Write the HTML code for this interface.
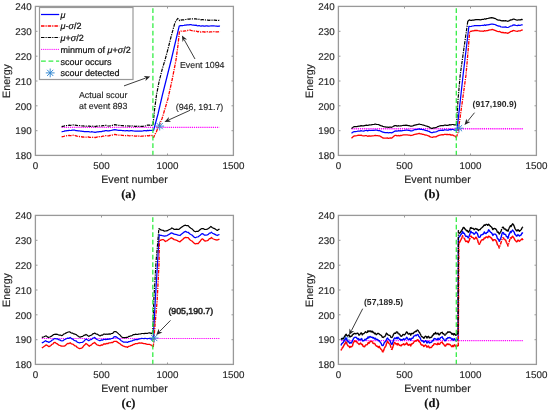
<!DOCTYPE html>
<html><head><meta charset="utf-8"><title>Energy vs Event number</title><style>
html,body{margin:0;padding:0;background:#fff;}
body{width:550px;height:411px;overflow:hidden;}
svg{display:block;filter:blur(0.3px);}
text{text-rendering:geometricPrecision;font-family:'Liberation Sans', Arial, Helvetica, sans-serif;fill:#262626;stroke:#262626;stroke-width:0.15px;}
.tk{font-size:9.8px;}
.al{font-size:10.7px;}
.an{font-size:8.8px;}
.b{font-weight:bold;font-size:8.6px;stroke-width:0;}
.c{font-size:8.75px;stroke-width:0.5px;}
.lg{font-size:9px;fill:#111;stroke:#111;stroke-width:0.22px;}
.gr{font-style:italic;}
.cap{font-family:'Liberation Serif', 'Times New Roman', serif;font-weight:bold;font-size:12.5px;fill:#111;}
</style></head>
<body><svg width="550" height="411" viewBox="0 0 550 411">
<rect width="550" height="411" fill="#fff"/>
<clipPath id="clipa"><rect x="35.5" y="6.5" width="198.0" height="149.0"/></clipPath>
<clipPath id="clipb"><rect x="338.5" y="6.5" width="198.0" height="149.0"/></clipPath>
<clipPath id="clipc"><rect x="35.5" y="215.5" width="198.0" height="149.0"/></clipPath>
<clipPath id="clipd"><rect x="338.5" y="215.5" width="198.0" height="149.0"/></clipPath>
<g clip-path="url(#clipa)">
<line x1="61.6" y1="127.3" x2="219.3" y2="127.3" stroke="#ff00ff" stroke-width="1.2" stroke-dasharray="1.2,0.9"/>
<polyline points="61.6,131.8 62.7,131.5 63.8,131.3 64.9,130.9 66.0,130.9 67.1,130.7 68.1,130.7 69.2,130.3 70.2,130.5 71.3,130.4 72.3,130.2 73.4,130.1 74.4,130.0 75.6,130.5 76.8,130.5 78.0,130.9 79.0,130.8 80.1,131.0 81.1,131.0 82.2,131.4 83.2,131.3 84.3,131.6 85.3,131.5 86.4,131.7 87.5,131.5 88.6,131.5 89.7,131.8 90.8,132.0 91.8,131.7 92.9,132.0 94.0,132.1 95.1,132.3 96.2,132.1 97.3,131.9 98.4,131.9 99.4,131.6 100.5,131.5 101.6,131.6 102.8,131.2 104.1,131.1 105.3,130.7 106.5,130.6 107.6,130.9 108.8,130.9 109.9,130.6 111.1,130.5 112.3,130.2 113.6,129.8 114.8,129.6 116.1,129.8 117.4,130.2 118.7,130.3 119.8,130.3 120.9,130.3 122.0,130.5 123.1,130.5 124.1,130.7 125.2,130.8 126.3,130.7 127.4,130.6 128.5,130.8 129.6,130.9 130.7,130.7 131.8,130.7 132.9,130.8 133.9,131.0 135.0,131.2 136.1,131.2 137.2,131.0 138.3,131.2 139.5,131.0 140.6,131.2 141.8,131.1 142.9,131.0 144.0,130.6 145.2,130.6 146.3,130.8 147.5,130.3 148.6,130.6 149.8,130.3 150.9,130.5 152.1,130.3 153.5,130.5 158.0,114.0 162.4,95.0 166.8,77.5 171.2,60.0 175.2,43.0 179.2,26.1 180.6,25.6 182.0,25.5 183.0,25.5 184.0,25.3 185.0,25.0 186.0,25.1 187.0,24.9 188.0,24.8 189.0,24.9 190.0,24.7 191.0,24.6 192.0,25.0 193.0,25.2 194.0,25.2 195.0,25.3 196.0,25.2 197.0,25.6 198.0,25.9 199.0,25.5 200.0,25.9 201.0,26.1 202.0,25.9 203.0,25.8 204.0,26.1 205.0,26.1 206.0,25.9 207.0,25.8 208.0,26.1 209.0,26.2 210.0,26.0 211.0,25.9 212.0,25.9 213.0,25.9 214.0,25.9 215.0,26.0 216.0,26.1 217.0,26.2 218.0,26.3 219.0,26.0 220.0,26.2" fill="none" stroke="#0000ff" stroke-width="1.25" stroke-linejoin="round"/>
<polyline points="61.6,136.9 62.7,136.6 63.8,136.4 64.9,136.0 66.0,135.9 67.1,135.7 68.1,135.7 69.2,135.3 70.2,135.6 71.3,135.5 72.3,135.3 73.4,135.2 74.4,135.1 75.6,135.8 76.8,136.0 78.0,136.6 79.0,136.5 80.1,136.6 81.1,136.7 82.2,137.0 83.2,137.0 84.3,137.2 85.3,137.1 86.4,137.2 87.5,137.0 88.6,137.0 89.7,137.3 90.8,137.4 91.8,137.1 92.9,137.3 94.0,137.4 95.1,137.5 96.2,137.3 97.3,137.0 98.4,137.0 99.4,136.7 100.5,136.5 101.6,136.6 102.8,136.2 104.1,136.1 105.3,135.7 106.5,135.6 107.6,135.8 108.8,135.8 109.9,135.5 111.1,135.4 112.3,135.1 113.6,134.7 114.8,134.5 116.1,134.7 117.4,135.1 118.7,135.2 119.8,135.2 120.9,135.2 122.0,135.4 123.1,135.4 124.1,135.6 125.2,135.7 126.3,135.6 127.4,135.5 128.5,135.7 129.6,135.8 130.7,135.6 131.8,135.6 132.9,135.7 133.9,135.9 135.0,136.2 136.1,136.2 137.2,136.0 138.3,136.2 139.5,136.0 140.6,136.3 141.8,136.2 142.9,136.2 144.0,135.9 145.2,135.9 146.3,136.1 147.5,135.6 148.6,135.8 149.8,135.5 150.9,135.7 152.1,135.5 153.6,137.4 154.9,134.5 156.3,132.0 157.5,129.1 158.6,126.5 159.8,124.0 160.9,121.2 162.1,118.4 165.2,108.0 167.9,98.9 172.3,79.0 176.0,60.0 178.0,45.0 179.4,31.7 180.7,31.2 182.0,31.0 183.0,31.1 184.0,31.1 185.0,30.9 186.0,30.9 187.0,30.5 188.0,30.4 189.0,30.3 190.0,30.0 191.0,30.4 192.0,30.7 193.0,31.0 194.0,31.0 195.0,31.1 196.0,31.1 197.0,31.4 198.0,31.8 199.0,31.4 200.0,31.8 201.0,32.0 202.0,31.8 203.0,31.7 204.0,32.0 205.0,32.0 206.0,31.8 207.0,31.7 208.0,32.0 209.0,32.1 210.0,31.9 211.0,31.8 212.0,31.8 213.0,31.7 214.0,31.7 215.0,31.7 216.0,31.8 217.0,31.9 218.0,31.9 219.0,31.6 220.0,31.8" fill="none" stroke="#ff0000" stroke-width="1.3" stroke-dasharray="3.5,1.0,1.2,1.0" stroke-linejoin="round"/>
<polyline points="61.6,126.6 62.7,126.3 63.8,126.1 64.9,125.7 66.0,125.7 67.1,125.5 68.1,125.5 69.2,125.1 70.2,125.3 71.3,125.2 72.3,125.0 73.4,124.9 74.4,124.8 75.6,125.3 76.8,125.3 78.0,125.7 79.0,125.5 80.1,125.7 81.1,125.7 82.2,126.0 83.2,125.9 84.3,126.1 85.3,126.0 86.3,126.1 87.3,125.9 88.3,126.2 89.3,126.0 90.4,126.3 91.4,126.5 92.4,126.2 93.4,126.4 94.4,126.4 95.4,126.6 96.5,126.1 97.5,126.1 98.5,126.0 99.5,125.9 100.6,125.8 101.6,126.0 102.8,125.6 104.1,125.7 105.3,125.3 106.5,125.4 107.6,125.8 108.8,126.0 109.9,125.9 111.1,125.7 112.3,125.4 113.6,125.0 114.8,124.7 116.1,124.9 117.4,125.3 118.7,125.4 119.8,125.4 120.9,125.5 122.0,125.7 123.1,125.7 124.1,125.9 125.2,126.0 126.3,125.8 127.4,125.8 128.5,126.0 129.6,126.1 130.7,125.8 131.8,125.9 132.9,126.0 133.9,126.1 135.0,126.4 136.1,126.3 137.2,126.1 138.3,126.3 139.5,126.1 140.6,126.4 141.8,126.3 142.9,126.3 144.0,126.0 145.2,126.0 146.2,125.9 147.2,125.2 148.2,125.1 149.5,125.1 150.8,125.5 152.1,125.4 153.0,125.2 154.5,110.0 156.5,95.0 159.0,82.0 162.0,70.0 165.0,60.0 168.0,49.0 171.0,37.0 174.9,22.8 176.3,20.5 177.7,18.5 178.8,19.4 179.8,20.7 180.9,20.1 182.0,19.9 183.0,19.9 184.0,19.8 185.0,19.5 186.1,19.5 187.1,19.2 188.2,19.1 189.3,19.1 190.3,18.9 191.4,18.7 192.6,18.9 193.8,18.8 195.0,18.8 196.0,18.8 197.0,19.2 198.0,19.5 199.0,19.2 200.0,19.6 201.0,19.8 202.0,19.7 203.0,19.6 204.0,20.0 205.0,20.0 206.0,19.9 207.0,19.8 208.0,20.2 209.0,20.3 210.0,20.1 211.0,20.0 212.0,20.1 213.0,20.0 214.0,20.1 215.0,20.2 216.0,20.3 217.0,20.4 218.0,20.5 219.0,20.3 220.0,20.5" fill="none" stroke="#000000" stroke-width="1.2" stroke-dasharray="3.5,1.0,1.2,1.0" stroke-linejoin="round"/>
<line x1="152.9" y1="155.5" x2="152.9" y2="6.5" stroke="#33ee44" stroke-width="1.3" stroke-dasharray="4.8,2.7"/>
</g>
<path d="M155.30,126.10L164.10,126.10M156.59,122.99L162.81,129.21M159.70,121.70L159.70,130.50M162.81,122.99L156.59,129.21" stroke="#2f86d0" stroke-width="0.95" fill="none"/>
<line x1="35.5" y1="155.5" x2="35.5" y2="153.5" stroke="#999999" stroke-width="1"/>
<line x1="35.5" y1="6.5" x2="35.5" y2="8.5" stroke="#999999" stroke-width="1"/>
<text x="35.5" y="169.1" text-anchor="middle" class="tk">0</text>
<line x1="101.5" y1="155.5" x2="101.5" y2="153.5" stroke="#999999" stroke-width="1"/>
<line x1="101.5" y1="6.5" x2="101.5" y2="8.5" stroke="#999999" stroke-width="1"/>
<text x="101.5" y="169.1" text-anchor="middle" class="tk">500</text>
<line x1="167.5" y1="155.5" x2="167.5" y2="153.5" stroke="#999999" stroke-width="1"/>
<line x1="167.5" y1="6.5" x2="167.5" y2="8.5" stroke="#999999" stroke-width="1"/>
<text x="167.5" y="169.1" text-anchor="middle" class="tk">1000</text>
<line x1="233.5" y1="155.5" x2="233.5" y2="153.5" stroke="#999999" stroke-width="1"/>
<line x1="233.5" y1="6.5" x2="233.5" y2="8.5" stroke="#999999" stroke-width="1"/>
<text x="233.5" y="169.1" text-anchor="middle" class="tk">1500</text>
<line x1="35.5" y1="155.5" x2="37.5" y2="155.5" stroke="#999999" stroke-width="1"/>
<line x1="233.5" y1="155.5" x2="231.5" y2="155.5" stroke="#999999" stroke-width="1"/>
<text x="31.6" y="159.2" text-anchor="end" class="tk">180</text>
<line x1="35.5" y1="130.7" x2="37.5" y2="130.7" stroke="#999999" stroke-width="1"/>
<line x1="233.5" y1="130.7" x2="231.5" y2="130.7" stroke="#999999" stroke-width="1"/>
<text x="31.6" y="134.4" text-anchor="end" class="tk">190</text>
<line x1="35.5" y1="105.8" x2="37.5" y2="105.8" stroke="#999999" stroke-width="1"/>
<line x1="233.5" y1="105.8" x2="231.5" y2="105.8" stroke="#999999" stroke-width="1"/>
<text x="31.6" y="109.5" text-anchor="end" class="tk">200</text>
<line x1="35.5" y1="81.0" x2="37.5" y2="81.0" stroke="#999999" stroke-width="1"/>
<line x1="233.5" y1="81.0" x2="231.5" y2="81.0" stroke="#999999" stroke-width="1"/>
<text x="31.6" y="84.7" text-anchor="end" class="tk">210</text>
<line x1="35.5" y1="56.2" x2="37.5" y2="56.2" stroke="#999999" stroke-width="1"/>
<line x1="233.5" y1="56.2" x2="231.5" y2="56.2" stroke="#999999" stroke-width="1"/>
<text x="31.6" y="59.9" text-anchor="end" class="tk">220</text>
<line x1="35.5" y1="31.3" x2="37.5" y2="31.3" stroke="#999999" stroke-width="1"/>
<line x1="233.5" y1="31.3" x2="231.5" y2="31.3" stroke="#999999" stroke-width="1"/>
<text x="31.6" y="35.0" text-anchor="end" class="tk">230</text>
<line x1="35.5" y1="6.5" x2="37.5" y2="6.5" stroke="#999999" stroke-width="1"/>
<line x1="233.5" y1="6.5" x2="231.5" y2="6.5" stroke="#999999" stroke-width="1"/>
<text x="31.6" y="10.2" text-anchor="end" class="tk">240</text>
<rect x="35.4" y="6.4" width="198.0" height="149.0" fill="none" stroke="#999999" stroke-width="1.3"/>
<text x="134.5" y="182.7" text-anchor="middle" class="al">Event number</text>
<text transform="translate(10.3,81.0) rotate(-90)" text-anchor="middle" class="al">Energy</text>
<g clip-path="url(#clipb)">
<line x1="351.5" y1="128.8" x2="522.8" y2="128.8" stroke="#ff00ff" stroke-width="1.4" stroke-dasharray="1.2,0.9"/>
<polyline points="351.5,133.3 352.5,132.6 353.5,131.8 354.5,131.6 355.6,131.6 356.7,131.5 357.8,131.2 358.9,131.1 360.0,131.1 361.1,130.7 362.2,131.0 363.3,131.1 364.4,130.8 365.5,130.5 366.6,130.4 367.6,130.8 368.7,130.4 369.8,130.3 370.9,130.5 372.0,130.3 373.1,130.3 374.2,130.3 375.3,130.0 376.4,130.0 377.5,130.3 378.5,130.6 379.6,130.5 380.7,131.2 381.8,131.6 382.9,132.2 384.0,132.4 385.1,132.6 386.2,132.7 387.3,132.5 388.4,132.9 389.5,132.7 390.5,132.7 391.6,132.9 392.7,132.4 393.8,131.7 394.9,131.1 396.0,130.9 397.1,131.2 398.2,130.7 399.3,130.8 400.4,130.7 401.5,130.8 402.5,130.6 403.6,130.5 404.8,130.3 406.0,130.2 407.2,130.2 408.4,130.3 409.5,130.4 410.5,130.8 411.6,130.8 412.7,130.6 413.8,130.0 414.9,129.7 416.0,129.6 417.1,129.4 418.2,129.2 419.3,128.9 420.4,129.4 421.5,129.2 422.5,129.7 423.6,129.7 424.7,130.1 425.8,130.5 426.9,130.5 428.0,131.1 429.1,131.3 430.2,132.2 431.3,132.6 432.4,132.7 433.5,132.1 434.5,132.2 435.6,132.0 436.7,131.6 437.8,131.0 438.9,130.7 440.0,130.4 441.1,130.3 442.2,130.2 443.3,130.3 444.4,129.9 445.4,129.9 446.5,130.0 447.6,130.0 448.7,130.0 449.8,129.4 450.9,129.9 452.0,129.4 453.1,129.5 454.2,130.0 455.3,130.0 457.0,130.5 463.1,75.0 468.9,26.3 470.1,26.5 471.3,26.3 472.5,26.0 473.6,25.9 474.7,25.7 475.8,25.6 476.9,25.6 478.0,25.7 479.1,25.6 480.2,25.7 481.3,25.5 482.4,25.3 483.5,25.5 484.6,24.9 485.6,25.3 486.7,24.9 487.8,24.9 489.1,24.6 490.3,24.3 491.6,24.0 492.7,24.1 493.8,24.3 494.9,24.5 496.2,25.1 497.4,25.7 498.7,26.2 499.8,26.1 500.9,26.9 502.0,27.0 503.1,27.0 504.3,27.2 505.6,26.9 506.8,27.3 508.0,27.5 509.4,26.8 510.7,26.0 511.8,25.9 512.9,25.1 514.0,24.9 515.1,25.2 516.2,25.5 517.3,25.6 518.4,25.2 519.4,25.3 520.5,25.3 521.6,24.8 522.7,24.9" fill="none" stroke="#0000ff" stroke-width="1.25" stroke-linejoin="round"/>
<polyline points="351.5,138.2 352.5,137.3 353.5,136.3 354.5,135.8 355.6,135.8 356.7,135.6 357.8,135.3 358.9,135.1 360.0,135.3 361.1,135.1 362.2,135.6 363.3,135.9 364.4,135.8 365.5,135.6 366.6,135.7 367.6,136.3 368.7,136.0 369.8,136.0 370.9,136.1 372.0,135.9 373.1,135.8 374.2,135.7 375.3,135.4 376.4,135.7 377.5,135.7 378.5,135.9 379.6,135.8 380.7,136.7 381.8,137.2 382.9,138.0 384.0,138.1 385.1,138.2 386.2,138.2 387.3,138.0 388.4,138.3 389.5,138.1 390.5,138.0 391.6,138.2 392.7,137.3 393.8,136.3 394.9,135.4 396.0,135.4 397.1,135.9 398.2,135.5 399.3,135.8 400.4,135.5 401.5,135.5 402.5,135.2 403.6,134.9 404.8,134.8 406.0,134.8 407.2,134.9 408.4,135.1 409.5,135.1 410.5,135.5 411.6,135.4 412.7,135.2 413.8,134.7 414.9,134.4 416.0,134.2 417.1,134.0 418.2,133.6 419.3,133.3 420.4,133.8 421.5,133.8 422.5,134.3 423.6,134.4 424.7,134.8 425.8,135.2 426.9,135.2 428.0,135.8 429.1,136.0 430.2,136.9 431.3,137.2 432.4,137.3 433.5,136.8 434.5,136.9 435.6,136.8 436.7,136.5 437.8,135.8 438.9,135.4 440.0,135.1 441.1,134.9 442.2,134.7 443.3,134.8 444.4,134.4 445.4,134.4 446.5,134.5 447.6,134.4 448.7,134.6 449.8,134.3 450.9,135.1 452.0,134.9 453.1,135.2 454.2,135.9 455.3,136.2 456.3,137.5" fill="none" stroke="#ff0000" stroke-width="1.3" stroke-linejoin="round"/>
<polyline points="456.3,137.5 458.0,132.5 462.0,104.0 466.0,75.0 468.0,52.0 469.7,31.4" fill="none" stroke="#ff0000" stroke-width="1.3" stroke-dasharray="3.5,1.0,1.2,1.0" stroke-linejoin="round"/>
<polyline points="469.7,31.4 471.1,31.3 472.5,30.8 473.6,30.8 474.7,30.5 475.8,30.4 476.9,30.5 478.0,30.7 479.1,30.8 480.2,31.2 481.3,31.1 482.4,31.1 483.5,31.3 484.6,30.6 485.6,31.0 486.7,30.6 487.8,30.5 488.9,30.2 490.0,29.9 491.1,29.8 492.2,29.4 493.5,29.8 494.9,30.3 496.2,30.8 497.4,31.3 498.7,31.6 499.8,31.5 500.9,32.3 502.0,32.5 503.1,32.5 504.3,32.8 505.6,32.6 506.8,33.0 508.0,33.3 509.4,32.4 510.7,31.4 511.8,31.4 512.9,30.6 514.0,30.5 515.1,30.9 516.2,31.2 517.3,31.4 518.4,30.9 519.4,30.9 520.5,30.8 521.6,30.1 522.7,30.0" fill="none" stroke="#ff0000" stroke-width="1.3" stroke-linejoin="round"/>
<polyline points="351.5,128.4 352.5,127.7 353.5,126.9 354.5,126.7 355.6,126.7 356.7,126.6 357.8,126.3 358.9,126.2 360.0,126.1 361.1,125.6 362.2,125.9 363.3,125.9 364.4,125.6 365.5,125.3 366.6,125.1 367.6,125.5 368.7,125.1 369.8,124.9 370.9,125.0 372.0,124.6 373.1,124.5 374.2,124.4 375.3,124.0 376.4,124.4 377.4,124.5 378.5,124.5 379.6,125.1 380.7,125.6 381.8,125.9 382.9,126.4 384.0,126.7 385.1,126.9 386.2,127.1 387.3,127.0 388.4,127.4 389.5,127.1 390.5,127.1 391.6,127.3 392.7,126.8 393.8,126.1 394.9,125.6 396.0,125.6 397.1,126.1 398.2,125.7 399.3,126.0 400.4,125.8 401.5,125.8 402.5,125.5 403.6,125.3 404.8,125.3 406.0,125.2 407.2,125.4 408.4,125.6 409.5,125.7 410.5,126.2 411.6,126.2 412.7,126.0 413.8,125.4 414.9,125.1 416.0,124.9 417.1,124.7 418.2,124.3 419.3,124.0 420.4,124.5 421.5,124.5 422.5,125.0 423.6,125.1 424.7,125.5 425.8,126.0 426.9,126.1 428.0,126.7 429.1,126.9 430.2,127.9 431.3,128.3 432.4,128.4 433.5,127.8 434.5,127.9 435.6,127.7 436.7,127.3 437.8,126.6 438.9,126.2 440.0,125.8 441.1,125.6 442.2,125.5 443.3,125.6 444.4,125.2 445.4,125.2 446.5,125.3 447.6,125.3 448.7,125.2 449.8,124.6 450.9,125.0 452.0,124.5 453.1,124.5 454.2,124.9 455.3,124.9 456.5,124.5" fill="none" stroke="#000000" stroke-width="1.2" stroke-linejoin="round"/>
<polyline points="456.5,124.5 458.0,100.0 460.2,75.0 463.7,50.0 467.8,21.2" fill="none" stroke="#000000" stroke-width="1.2" stroke-dasharray="3.5,1.0,1.2,1.0" stroke-linejoin="round"/>
<polyline points="467.8,21.2 469.3,19.9 470.4,20.3 471.4,20.3 472.5,20.2 473.6,20.1 474.7,19.8 475.8,19.6 476.9,19.6 478.0,19.7 479.1,19.6 480.2,19.8 481.3,19.6 482.4,19.4 483.5,19.5 484.6,18.8 485.6,19.1 486.7,18.6 487.8,18.5 489.1,18.2 490.3,17.9 491.6,17.7 493.0,17.9 494.4,18.3 495.5,18.6 496.5,19.4 497.6,19.9 498.7,20.2 499.8,20.0 500.9,20.7 502.0,20.8 503.1,20.7 504.3,20.9 505.6,20.7 506.8,21.0 508.0,21.3 509.4,20.6 510.7,19.9 511.8,19.9 512.9,19.2 514.0,19.1 515.1,19.5 516.2,19.9 517.3,20.2 518.4,19.8 519.4,19.9 520.5,19.9 521.6,19.4 522.7,19.6" fill="none" stroke="#000000" stroke-width="1.2" stroke-linejoin="round"/>
<line x1="456.3" y1="155.5" x2="456.3" y2="6.5" stroke="#33ee44" stroke-width="1.3" stroke-dasharray="4.8,2.7"/>
</g>
<path d="M454.60,128.20L463.40,128.20M455.89,125.09L462.11,131.31M459.00,123.80L459.00,132.60M462.11,125.09L455.89,131.31" stroke="#2f86d0" stroke-width="0.95" fill="none"/>
<line x1="338.5" y1="155.5" x2="338.5" y2="153.5" stroke="#999999" stroke-width="1"/>
<line x1="338.5" y1="6.5" x2="338.5" y2="8.5" stroke="#999999" stroke-width="1"/>
<text x="338.5" y="169.1" text-anchor="middle" class="tk">0</text>
<line x1="404.5" y1="155.5" x2="404.5" y2="153.5" stroke="#999999" stroke-width="1"/>
<line x1="404.5" y1="6.5" x2="404.5" y2="8.5" stroke="#999999" stroke-width="1"/>
<text x="404.5" y="169.1" text-anchor="middle" class="tk">500</text>
<line x1="470.5" y1="155.5" x2="470.5" y2="153.5" stroke="#999999" stroke-width="1"/>
<line x1="470.5" y1="6.5" x2="470.5" y2="8.5" stroke="#999999" stroke-width="1"/>
<text x="470.5" y="169.1" text-anchor="middle" class="tk">1000</text>
<line x1="536.5" y1="155.5" x2="536.5" y2="153.5" stroke="#999999" stroke-width="1"/>
<line x1="536.5" y1="6.5" x2="536.5" y2="8.5" stroke="#999999" stroke-width="1"/>
<text x="536.5" y="169.1" text-anchor="middle" class="tk">1500</text>
<line x1="338.5" y1="155.5" x2="340.5" y2="155.5" stroke="#999999" stroke-width="1"/>
<line x1="536.5" y1="155.5" x2="534.5" y2="155.5" stroke="#999999" stroke-width="1"/>
<text x="334.6" y="159.2" text-anchor="end" class="tk">180</text>
<line x1="338.5" y1="130.7" x2="340.5" y2="130.7" stroke="#999999" stroke-width="1"/>
<line x1="536.5" y1="130.7" x2="534.5" y2="130.7" stroke="#999999" stroke-width="1"/>
<text x="334.6" y="134.4" text-anchor="end" class="tk">190</text>
<line x1="338.5" y1="105.8" x2="340.5" y2="105.8" stroke="#999999" stroke-width="1"/>
<line x1="536.5" y1="105.8" x2="534.5" y2="105.8" stroke="#999999" stroke-width="1"/>
<text x="334.6" y="109.5" text-anchor="end" class="tk">200</text>
<line x1="338.5" y1="81.0" x2="340.5" y2="81.0" stroke="#999999" stroke-width="1"/>
<line x1="536.5" y1="81.0" x2="534.5" y2="81.0" stroke="#999999" stroke-width="1"/>
<text x="334.6" y="84.7" text-anchor="end" class="tk">210</text>
<line x1="338.5" y1="56.2" x2="340.5" y2="56.2" stroke="#999999" stroke-width="1"/>
<line x1="536.5" y1="56.2" x2="534.5" y2="56.2" stroke="#999999" stroke-width="1"/>
<text x="334.6" y="59.9" text-anchor="end" class="tk">220</text>
<line x1="338.5" y1="31.3" x2="340.5" y2="31.3" stroke="#999999" stroke-width="1"/>
<line x1="536.5" y1="31.3" x2="534.5" y2="31.3" stroke="#999999" stroke-width="1"/>
<text x="334.6" y="35.0" text-anchor="end" class="tk">230</text>
<line x1="338.5" y1="6.5" x2="340.5" y2="6.5" stroke="#999999" stroke-width="1"/>
<line x1="536.5" y1="6.5" x2="534.5" y2="6.5" stroke="#999999" stroke-width="1"/>
<text x="334.6" y="10.2" text-anchor="end" class="tk">240</text>
<rect x="338.4" y="6.4" width="198.0" height="149.0" fill="none" stroke="#999999" stroke-width="1.3"/>
<text x="437.5" y="182.7" text-anchor="middle" class="al">Event number</text>
<text transform="translate(313.3,81.0) rotate(-90)" text-anchor="middle" class="al">Energy</text>
<g clip-path="url(#clipc)">
<line x1="41.8" y1="338.5" x2="219.9" y2="338.5" stroke="#ff00ff" stroke-width="1.0" stroke-dasharray="1.2,0.9"/>
<polyline points="41.8,342.9 43.1,342.4 44.3,341.6 45.6,340.7 46.7,341.6 47.8,341.7 48.9,342.4 49.9,341.8 50.9,341.3 51.9,340.2 52.9,339.9 53.9,338.8 54.9,338.5 56.2,338.9 57.4,338.9 58.7,339.6 59.8,339.9 60.9,340.6 62.0,340.9 63.1,340.7 64.2,339.6 65.3,339.3 66.4,338.8 67.7,338.1 68.9,338.3 70.2,337.4 71.5,338.7 72.7,339.1 74.0,340.2 75.1,340.8 76.2,340.9 77.2,342.1 78.3,342.5 79.4,342.9 80.8,342.5 82.2,342.4 83.5,341.7 84.7,340.3 86.0,339.1 87.3,339.8 88.7,340.7 89.7,340.0 90.7,339.7 91.7,339.3 92.7,338.2 93.7,338.0 94.7,337.4 95.8,338.7 97.0,339.5 98.1,340.0 99.3,340.5 100.4,340.5 101.5,339.9 102.6,340.2 103.6,339.3 104.7,339.4 105.8,339.6 106.9,339.2 108.0,339.4 109.1,338.9 110.2,339.1 111.4,338.5 112.7,338.3 113.9,336.9 115.1,336.6 116.4,336.9 117.8,338.0 118.9,338.8 120.0,339.5 121.1,340.7 122.2,341.3 123.3,342.0 124.4,342.0 125.4,342.2 126.5,342.1 127.6,342.4 128.7,341.5 129.8,341.5 130.9,341.1 132.0,341.0 133.1,340.2 134.2,340.1 135.3,339.5 136.3,339.5 137.4,339.6 138.5,339.1 139.6,338.8 140.7,338.7 141.8,338.4 142.9,338.5 144.0,338.7 145.1,338.4 146.2,338.5 147.3,338.8 148.3,338.5 149.4,338.4 150.5,338.8 151.5,338.9 152.5,339.8 153.3,338.5 155.3,300.0 157.6,262.0 159.2,234.7 160.3,235.3 161.3,235.3 162.4,235.6 163.4,235.8 164.5,236.2 165.8,235.8 167.1,235.6 168.4,234.7 169.9,233.9 171.3,232.8 172.8,233.4 174.2,234.2 175.5,234.4 176.8,234.6 178.1,235.2 180.0,235.5 181.3,234.3 182.7,233.2 184.1,232.1 185.5,231.4 186.8,232.1 188.2,232.3 189.6,233.8 190.9,234.5 192.1,235.1 193.2,236.2 194.3,237.3 195.5,237.7 196.8,237.0 198.2,236.8 199.2,235.9 200.2,235.2 201.3,234.1 202.3,233.6 203.4,234.1 204.5,235.2 205.9,235.2 207.3,234.8 208.3,234.4 209.4,233.1 210.4,233.1 211.4,232.1 212.4,233.2 213.5,233.7 214.5,234.1 215.9,234.9 217.3,235.5 218.4,234.8 219.5,234.5" fill="none" stroke="#0000ff" stroke-width="1.25" stroke-linejoin="round"/>
<polyline points="41.8,347.8 42.9,347.3 44.0,346.5 45.1,345.7 46.2,344.9 47.5,345.6 48.9,346.7 49.9,346.1 50.9,345.5 51.9,344.3 52.9,344.0 53.9,342.7 54.9,342.4 56.2,343.3 57.4,343.9 58.7,345.1 59.8,345.3 60.9,346.0 62.0,346.2 63.1,346.2 64.2,346.2 65.6,345.4 66.9,344.0 68.0,343.3 69.1,343.6 70.2,342.7 71.5,343.9 72.7,344.1 74.0,345.1 75.1,345.9 76.2,346.1 77.2,347.5 78.3,348.0 79.4,348.6 80.5,348.3 81.6,348.2 82.7,347.3 83.8,345.7 84.9,344.8 86.0,343.4 87.1,344.3 88.2,345.2 89.3,346.2 90.4,345.3 91.5,344.8 92.5,343.6 93.6,343.2 94.7,342.4 95.8,343.8 97.0,344.8 98.1,345.2 99.3,345.7 100.4,345.6 101.5,344.9 102.6,345.1 103.6,344.0 104.7,344.0 105.8,344.0 106.9,343.4 108.0,343.6 109.1,342.8 110.2,342.9 111.4,342.5 112.7,342.5 113.9,341.4 115.1,341.3 116.4,341.4 117.8,342.4 118.9,343.1 120.0,343.7 121.1,344.8 122.2,345.3 123.3,346.1 124.4,346.3 125.4,346.8 126.5,346.8 127.6,347.3 128.7,346.3 129.8,346.2 130.9,345.7 132.0,345.4 133.1,344.5 134.2,344.4 135.3,343.7 136.3,343.7 137.4,343.7 138.5,343.2 139.6,342.9 140.7,343.1 141.8,343.0 142.9,343.3 144.0,343.7 145.1,343.7 146.2,344.0 147.3,344.4 148.3,344.3 149.4,344.3 150.5,344.9 151.5,345.1 152.5,346.2 153.3,347.0" fill="none" stroke="#ff0000" stroke-width="1.3" stroke-linejoin="round"/>
<polyline points="153.3,347.0 155.2,323.0 157.2,300.0 159.1,262.0 159.4,240.1" fill="none" stroke="#ff0000" stroke-width="1.3" stroke-dasharray="3.5,1.0,1.2,1.0" stroke-linejoin="round"/>
<polyline points="159.4,240.1 160.4,240.3 161.4,239.8 162.5,239.7 163.5,239.6 165.4,241.5 166.4,241.0 167.4,240.6 168.4,239.6 169.9,238.8 171.3,237.7 172.8,238.6 174.2,239.6 175.5,239.9 176.8,240.3 178.1,241.1 180.0,241.8 181.3,240.5 182.7,239.4 184.1,238.1 185.5,237.3 186.8,237.7 188.2,237.7 189.6,239.5 190.9,240.5 192.1,241.1 193.2,242.3 194.3,243.4 195.5,243.9 196.8,243.5 198.2,243.6 199.2,242.3 200.2,241.2 201.3,239.7 202.3,238.8 203.4,239.5 204.5,240.9 205.9,241.0 207.3,240.6 208.3,240.1 209.4,238.7 210.4,238.6 211.4,237.5 212.4,238.5 213.5,239.0 214.5,239.4 215.9,239.8 217.3,240.0 218.4,239.5 219.5,239.4" fill="none" stroke="#ff0000" stroke-width="1.3" stroke-linejoin="round"/>
<polyline points="41.8,337.4 42.9,337.2 44.0,336.8 45.1,336.3 46.2,335.8 47.3,336.9 48.4,337.4 49.8,337.0 51.1,336.4 52.4,335.4 53.6,334.6 54.9,334.2 56.0,334.4 57.1,334.2 58.2,334.7 59.3,335.2 60.4,335.0 61.4,335.6 62.5,335.3 63.6,334.1 64.7,333.7 65.8,333.1 67.1,332.5 68.3,332.0 69.6,331.8 71.0,332.8 72.4,333.1 73.8,333.9 75.1,334.2 76.3,334.6 77.5,335.8 78.8,336.6 80.0,337.2 81.3,336.6 82.7,336.4 83.8,335.4 84.9,335.2 86.0,334.4 87.3,335.3 88.7,336.4 89.7,335.7 90.7,335.4 91.7,335.0 92.7,333.9 93.7,333.7 94.7,333.1 95.8,333.8 97.0,334.1 98.1,334.8 99.3,335.6 100.4,335.8 101.5,335.0 102.6,335.2 103.6,334.1 104.7,334.0 105.8,334.3 106.9,334.0 108.0,334.3 109.1,333.9 110.2,334.2 111.4,333.5 112.7,333.3 113.9,331.9 115.1,331.5 116.4,331.9 117.8,333.1 118.9,334.1 120.0,335.0 121.1,336.4 122.2,337.2 123.3,337.7 124.4,337.5 125.4,337.6 126.5,337.3 127.6,337.4 128.7,336.4 129.8,336.3 130.9,335.8 132.0,335.6 133.1,334.7 134.2,334.7 135.3,334.2 136.3,334.3 137.4,334.5 138.5,334.1 139.6,334.0 140.7,333.9 141.8,333.5 142.9,333.5 144.0,333.6 145.1,333.3 146.2,333.3 147.3,333.5 148.3,333.0 149.4,332.8 150.5,333.1 152.2,333.6" fill="none" stroke="#000000" stroke-width="1.2" stroke-linejoin="round"/>
<polyline points="152.2,333.6 152.8,330.0 153.8,300.0 155.0,280.0 156.0,262.0 157.5,245.0 158.9,228.4" fill="none" stroke="#000000" stroke-width="1.2" stroke-dasharray="3.5,1.0,1.2,1.0" stroke-linejoin="round"/>
<polyline points="158.9,228.4 159.9,229.4 161.0,229.9 162.1,230.2 163.2,230.3 164.3,231.2 165.4,231.0 166.4,230.8 167.4,230.7 168.4,230.0 169.5,229.5 170.7,229.0 171.8,227.9 173.0,228.6 174.2,229.4 175.4,229.3 176.6,229.1 177.8,229.3 179.0,229.4 180.2,228.3 181.5,227.3 182.7,226.4 184.1,225.6 185.5,225.2 186.8,225.7 188.2,225.7 189.6,227.3 190.9,228.2 192.1,228.9 193.2,230.1 194.3,231.3 195.5,231.8 196.8,231.3 198.2,231.4 199.4,230.3 200.6,229.2 201.8,228.5 203.2,228.6 204.5,229.4 205.9,229.5 207.3,229.1 208.5,228.5 209.7,227.6 210.9,226.4 212.1,227.5 213.3,228.1 214.5,228.6 215.9,229.6 217.3,230.5 218.4,229.6 219.5,229.1" fill="none" stroke="#000000" stroke-width="1.2" stroke-linejoin="round"/>
<line x1="152.8" y1="364.5" x2="152.8" y2="215.5" stroke="#33ee44" stroke-width="1.3" stroke-dasharray="4.8,2.7"/>
</g>
<path d="M149.80,338.00L158.60,338.00M151.09,334.89L157.31,341.11M154.20,333.60L154.20,342.40M157.31,334.89L151.09,341.11" stroke="#2f86d0" stroke-width="0.95" fill="none"/>
<line x1="35.5" y1="364.5" x2="35.5" y2="362.5" stroke="#999999" stroke-width="1"/>
<line x1="35.5" y1="215.5" x2="35.5" y2="217.5" stroke="#999999" stroke-width="1"/>
<text x="35.5" y="378.1" text-anchor="middle" class="tk">0</text>
<line x1="101.5" y1="364.5" x2="101.5" y2="362.5" stroke="#999999" stroke-width="1"/>
<line x1="101.5" y1="215.5" x2="101.5" y2="217.5" stroke="#999999" stroke-width="1"/>
<text x="101.5" y="378.1" text-anchor="middle" class="tk">500</text>
<line x1="167.5" y1="364.5" x2="167.5" y2="362.5" stroke="#999999" stroke-width="1"/>
<line x1="167.5" y1="215.5" x2="167.5" y2="217.5" stroke="#999999" stroke-width="1"/>
<text x="167.5" y="378.1" text-anchor="middle" class="tk">1000</text>
<line x1="233.5" y1="364.5" x2="233.5" y2="362.5" stroke="#999999" stroke-width="1"/>
<line x1="233.5" y1="215.5" x2="233.5" y2="217.5" stroke="#999999" stroke-width="1"/>
<text x="233.5" y="378.1" text-anchor="middle" class="tk">1500</text>
<line x1="35.5" y1="364.5" x2="37.5" y2="364.5" stroke="#999999" stroke-width="1"/>
<line x1="233.5" y1="364.5" x2="231.5" y2="364.5" stroke="#999999" stroke-width="1"/>
<text x="31.6" y="368.2" text-anchor="end" class="tk">180</text>
<line x1="35.5" y1="339.7" x2="37.5" y2="339.7" stroke="#999999" stroke-width="1"/>
<line x1="233.5" y1="339.7" x2="231.5" y2="339.7" stroke="#999999" stroke-width="1"/>
<text x="31.6" y="343.4" text-anchor="end" class="tk">190</text>
<line x1="35.5" y1="314.8" x2="37.5" y2="314.8" stroke="#999999" stroke-width="1"/>
<line x1="233.5" y1="314.8" x2="231.5" y2="314.8" stroke="#999999" stroke-width="1"/>
<text x="31.6" y="318.5" text-anchor="end" class="tk">200</text>
<line x1="35.5" y1="290.0" x2="37.5" y2="290.0" stroke="#999999" stroke-width="1"/>
<line x1="233.5" y1="290.0" x2="231.5" y2="290.0" stroke="#999999" stroke-width="1"/>
<text x="31.6" y="293.7" text-anchor="end" class="tk">210</text>
<line x1="35.5" y1="265.2" x2="37.5" y2="265.2" stroke="#999999" stroke-width="1"/>
<line x1="233.5" y1="265.2" x2="231.5" y2="265.2" stroke="#999999" stroke-width="1"/>
<text x="31.6" y="268.9" text-anchor="end" class="tk">220</text>
<line x1="35.5" y1="240.3" x2="37.5" y2="240.3" stroke="#999999" stroke-width="1"/>
<line x1="233.5" y1="240.3" x2="231.5" y2="240.3" stroke="#999999" stroke-width="1"/>
<text x="31.6" y="244.0" text-anchor="end" class="tk">230</text>
<line x1="35.5" y1="215.5" x2="37.5" y2="215.5" stroke="#999999" stroke-width="1"/>
<line x1="233.5" y1="215.5" x2="231.5" y2="215.5" stroke="#999999" stroke-width="1"/>
<text x="31.6" y="219.2" text-anchor="end" class="tk">240</text>
<rect x="35.4" y="215.4" width="198.0" height="149.0" fill="none" stroke="#999999" stroke-width="1.3"/>
<text x="134.5" y="391.7" text-anchor="middle" class="al">Event number</text>
<text transform="translate(10.3,290.0) rotate(-90)" text-anchor="middle" class="al">Energy</text>
<path d="M341.10,340.00L349.90,340.00M342.39,336.89L348.61,343.11M345.50,335.60L345.50,344.40M348.61,336.89L342.39,343.11" stroke="#2f86d0" stroke-width="0.95" fill="none"/>
<g clip-path="url(#clipd)">
<line x1="341" y1="340.6" x2="522.8" y2="340.6" stroke="#ff00ff" stroke-width="1.2" stroke-dasharray="1.2,0.9"/>
<polyline points="341.0,345.6 341.8,343.6 342.7,343.0 343.5,341.8 344.4,340.2 345.3,338.9 346.2,338.0 347.1,340.4 348.0,341.6 348.9,341.8 349.8,343.3 350.7,342.5 351.6,342.9 352.5,340.5 353.5,338.6 354.4,337.4 355.2,337.4 356.0,337.2 356.8,338.0 357.6,339.1 358.4,338.6 359.2,340.1 360.1,339.2 360.9,339.6 361.7,338.6 362.5,340.9 363.4,340.9 364.2,340.2 365.0,339.3 365.8,340.0 366.6,338.5 367.4,338.5 368.1,336.8 368.8,337.9 369.5,336.8 370.2,336.4 371.1,337.2 372.0,337.1 372.9,338.0 373.7,337.6 374.5,339.0 375.4,338.2 376.2,339.6 377.0,339.5 377.8,339.5 378.6,340.9 379.4,340.7 380.2,342.2 381.0,343.1 381.9,345.3 382.7,345.6 383.4,345.1 384.2,342.8 384.9,341.8 385.8,341.5 386.7,338.9 387.6,338.0 388.3,339.2 389.1,339.8 389.8,340.2 390.5,342.0 391.3,344.1 392.0,344.5 392.9,342.4 393.8,339.2 394.7,338.0 395.6,338.6 396.5,337.5 397.2,338.8 397.9,337.2 398.7,338.1 399.4,339.2 400.2,339.3 401.1,340.3 401.9,339.6 402.8,339.7 403.6,338.7 404.3,339.7 405.1,339.0 405.8,339.0 406.6,337.3 407.3,338.0 408.1,339.5 409.0,339.4 409.9,338.6 410.7,340.3 411.5,338.4 412.3,338.2 413.0,338.1 413.8,336.1 414.6,335.8 415.5,335.2 416.3,335.7 417.1,334.6 418.0,334.4 418.7,336.3 419.5,337.1 420.2,338.0 420.9,339.8 421.6,340.8 422.4,340.8 423.1,341.4 423.9,342.4 424.6,341.5 425.4,340.7 426.1,341.0 426.9,343.0 427.6,342.0 428.5,341.4 429.3,343.0 430.1,342.4 431.0,342.5 431.8,341.9 432.6,340.5 433.3,340.7 434.1,338.5 434.9,338.6 435.7,339.0 436.5,339.3 437.2,339.8 438.0,338.2 438.8,339.4 439.6,339.4 440.5,337.7 441.4,337.3 442.2,336.7 442.9,338.5 443.6,338.8 444.3,340.1 445.0,340.9 445.7,340.6 446.4,338.6 447.2,338.7 447.9,337.5 448.7,338.0 449.5,337.5 450.4,337.8 451.2,338.6 452.0,339.8 452.8,338.7 453.6,340.3 454.4,338.7 455.2,339.7 456.0,340.8 456.7,339.3 457.5,340.0 458.2,339.0 458.4,237.9 459.1,237.1 459.8,236.4 460.5,234.9 461.2,234.2 461.9,233.3 462.6,231.5 463.5,233.4 464.3,233.2 465.2,235.3 465.9,236.5 466.7,236.2 467.4,236.4 468.2,237.9 469.0,236.6 469.9,234.0 470.7,231.1 471.6,232.5 472.4,232.7 473.3,233.2 474.1,234.3 475.0,233.5 475.9,231.9 476.7,232.8 477.5,233.7 478.4,236.7 479.2,237.4 480.1,237.1 480.9,235.0 481.8,234.9 482.6,234.2 483.5,234.0 484.3,231.9 485.1,233.2 486.0,233.6 486.9,232.4 487.7,232.2 488.6,229.8 490.0,231.5 490.7,232.3 491.4,232.6 492.2,233.9 492.9,235.4 493.6,234.3 494.4,234.1 495.1,234.1 495.8,234.5 496.6,235.8 497.5,238.9 498.4,238.9 499.2,241.3 499.9,240.0 500.6,238.8 501.3,236.5 502.0,233.6 502.7,232.5 503.4,232.6 504.1,234.4 504.9,234.3 505.6,234.5 506.4,236.5 507.2,236.6 508.0,238.4 508.8,235.1 509.6,233.4 510.4,231.5 511.1,232.5 511.9,231.0 512.6,230.1 513.4,231.1 514.2,232.2 515.0,234.4 515.8,235.0 516.5,236.1 517.2,235.9 518.0,234.6 518.7,235.4 519.5,236.0 520.3,235.2 521.1,235.0 522.1,232.9 523.1,233.0" fill="none" stroke="#0000ff" stroke-width="1.4" stroke-linejoin="round"/>
<polyline points="341.0,350.5 341.8,348.4" fill="none" stroke="#ff0000" stroke-width="1.45" stroke-dasharray="3.5,1.0,1.2,1.0" stroke-linejoin="round"/>
<polyline points="341.8,348.4 342.7,347.6 343.5,346.2 344.4,344.4 345.3,342.9 346.2,341.8" fill="none" stroke="#ff0000" stroke-width="1.45" stroke-linejoin="round"/>
<polyline points="346.2,341.8 347.1,344.4" fill="none" stroke="#ff0000" stroke-width="1.45" stroke-dasharray="3.5,1.0,1.2,1.0" stroke-linejoin="round"/>
<polyline points="347.1,344.4 348.0,345.8 348.9,346.2 349.8,347.5 350.7,346.5 351.6,346.7 352.4,346.3" fill="none" stroke="#ff0000" stroke-width="1.45" stroke-linejoin="round"/>
<polyline points="352.4,346.3 353.2,343.0" fill="none" stroke="#ff0000" stroke-width="1.45" stroke-dasharray="3.5,1.0,1.2,1.0" stroke-linejoin="round"/>
<polyline points="353.2,343.0 354.1,341.6 354.9,340.7 355.7,341.6 356.5,341.0" fill="none" stroke="#ff0000" stroke-width="1.45" stroke-linejoin="round"/>
<polyline points="356.5,341.0 357.4,343.1" fill="none" stroke="#ff0000" stroke-width="1.45" stroke-dasharray="3.5,1.0,1.2,1.0" stroke-linejoin="round"/>
<polyline points="357.4,343.1 358.2,343.4 359.0,344.4 359.8,343.7 360.6,343.0 361.4,344.5 362.2,343.9" fill="none" stroke="#ff0000" stroke-width="1.45" stroke-linejoin="round"/>
<polyline points="362.2,343.9 363.0,346.5" fill="none" stroke="#ff0000" stroke-width="1.45" stroke-dasharray="3.5,1.0,1.2,1.0" stroke-linejoin="round"/>
<polyline points="363.0,346.5 363.9,346.5 364.7,346.7 365.6,345.0 366.5,344.9 367.4,344.5 368.2,342.5 369.0,343.3 369.9,341.9 370.7,341.3 371.5,341.5 372.4,341.4" fill="none" stroke="#ff0000" stroke-width="1.45" stroke-linejoin="round"/>
<polyline points="372.4,341.4 373.2,343.9" fill="none" stroke="#ff0000" stroke-width="1.45" stroke-dasharray="3.5,1.0,1.2,1.0" stroke-linejoin="round"/>
<polyline points="373.2,343.9 374.0,343.4 374.9,343.4" fill="none" stroke="#ff0000" stroke-width="1.45" stroke-linejoin="round"/>
<polyline points="374.9,343.4 375.8,345.7" fill="none" stroke="#ff0000" stroke-width="1.45" stroke-dasharray="3.5,1.0,1.2,1.0" stroke-linejoin="round"/>
<polyline points="375.8,345.7 376.7,346.2 377.5,346.2 378.4,347.5 379.2,346.3 380.0,347.8 380.9,349.2 381.8,349.8" fill="none" stroke="#ff0000" stroke-width="1.45" stroke-linejoin="round"/>
<polyline points="381.8,349.8 382.7,352.2" fill="none" stroke="#ff0000" stroke-width="1.45" stroke-dasharray="3.5,1.0,1.2,1.0" stroke-linejoin="round"/>
<polyline points="382.7,352.2 383.4,351.3" fill="none" stroke="#ff0000" stroke-width="1.45" stroke-linejoin="round"/>
<polyline points="383.4,351.3 384.2,348.7" fill="none" stroke="#ff0000" stroke-width="1.45" stroke-dasharray="3.5,1.0,1.2,1.0" stroke-linejoin="round"/>
<polyline points="384.2,348.7 384.9,347.3 385.8,346.2" fill="none" stroke="#ff0000" stroke-width="1.45" stroke-linejoin="round"/>
<polyline points="385.8,346.2 386.7,342.9" fill="none" stroke="#ff0000" stroke-width="1.45" stroke-dasharray="3.5,1.0,1.2,1.0" stroke-linejoin="round"/>
<polyline points="386.7,342.9 387.6,341.3 388.4,342.8 389.3,343.8 390.1,344.5" fill="none" stroke="#ff0000" stroke-width="1.45" stroke-linejoin="round"/>
<polyline points="390.1,344.5 391.7,349.9" fill="none" stroke="#ff0000" stroke-width="1.45" stroke-dasharray="3.5,1.0,1.2,1.0" stroke-linejoin="round"/>
<polyline points="391.7,349.9 392.4,348.1 393.2,346.3" fill="none" stroke="#ff0000" stroke-width="1.45" stroke-linejoin="round"/>
<polyline points="393.2,346.3 393.9,343.3" fill="none" stroke="#ff0000" stroke-width="1.45" stroke-dasharray="3.5,1.0,1.2,1.0" stroke-linejoin="round"/>
<polyline points="393.9,343.3 394.7,342.4 395.6,343.9 396.5,343.7 397.2,345.0 397.9,343.4 398.7,344.3 399.4,345.4 400.2,345.2 401.1,345.9 401.9,344.8 402.8,344.6 403.6,343.7 404.3,344.9 405.1,344.3 405.8,344.4 406.6,342.8 407.3,343.7 408.1,345.2 409.0,345.0 409.9,344.3 410.7,345.9 411.5,344.0 412.3,343.8 413.0,343.7" fill="none" stroke="#ff0000" stroke-width="1.45" stroke-linejoin="round"/>
<polyline points="413.0,343.7 413.8,341.7" fill="none" stroke="#ff0000" stroke-width="1.45" stroke-dasharray="3.5,1.0,1.2,1.0" stroke-linejoin="round"/>
<polyline points="413.8,341.7 414.6,341.4 415.5,340.7 416.3,341.1 417.1,339.9 418.0,339.7 418.7,341.3 419.5,341.9 420.2,342.5 420.9,344.2 421.6,345.1 422.4,344.9 423.1,345.4 423.9,346.5 424.6,345.7 425.4,345.0 426.1,345.3" fill="none" stroke="#ff0000" stroke-width="1.45" stroke-linejoin="round"/>
<polyline points="426.1,345.3 426.9,347.4" fill="none" stroke="#ff0000" stroke-width="1.45" stroke-dasharray="3.5,1.0,1.2,1.0" stroke-linejoin="round"/>
<polyline points="426.9,347.4 427.6,346.5 428.5,346.0 429.3,347.8 430.1,347.4 431.0,347.6 431.8,347.0 432.6,345.6 433.3,345.8" fill="none" stroke="#ff0000" stroke-width="1.45" stroke-linejoin="round"/>
<polyline points="433.3,345.8 434.1,343.6" fill="none" stroke="#ff0000" stroke-width="1.45" stroke-dasharray="3.5,1.0,1.2,1.0" stroke-linejoin="round"/>
<polyline points="434.1,343.6 434.9,343.7 435.7,344.1 436.5,344.3 437.2,344.7 438.0,343.1 438.8,344.2 439.6,344.3 440.5,342.8 441.4,342.4 442.2,342.0 442.9,343.7 443.6,344.0 444.3,345.2 445.0,345.9 445.7,345.9 446.4,344.2 447.2,344.6 447.9,343.7 448.7,344.5 449.5,344.3 450.4,344.9 451.2,345.9 452.0,346.8 452.8,345.4 453.6,346.6 454.4,344.7 455.2,345.4 456.0,346.6 456.7,345.2 457.5,346.0 458.3,346.0" fill="none" stroke="#ff0000" stroke-width="1.45" stroke-linejoin="round"/>
<polyline points="458.3,346.0 458.8,243.4" fill="none" stroke="#ff0000" stroke-width="1.45" stroke-dasharray="3.5,1.0,1.2,1.0" stroke-linejoin="round"/>
<polyline points="458.8,243.4 459.6,242.4 460.5,240.4 461.2,239.3 461.9,237.9" fill="none" stroke="#ff0000" stroke-width="1.45" stroke-linejoin="round"/>
<polyline points="461.9,237.9 462.6,235.7 463.5,237.9" fill="none" stroke="#ff0000" stroke-width="1.45" stroke-dasharray="3.5,1.0,1.2,1.0" stroke-linejoin="round"/>
<polyline points="463.5,237.9 464.3,238.0" fill="none" stroke="#ff0000" stroke-width="1.45" stroke-linejoin="round"/>
<polyline points="464.3,238.0 465.2,240.4" fill="none" stroke="#ff0000" stroke-width="1.45" stroke-dasharray="3.5,1.0,1.2,1.0" stroke-linejoin="round"/>
<polyline points="465.2,240.4 465.9,241.5 466.7,241.1 467.4,241.2 468.2,242.6 469.0,241.2" fill="none" stroke="#ff0000" stroke-width="1.45" stroke-linejoin="round"/>
<polyline points="469.0,241.2 469.9,238.6 470.7,235.7" fill="none" stroke="#ff0000" stroke-width="1.45" stroke-dasharray="3.5,1.0,1.2,1.0" stroke-linejoin="round"/>
<polyline points="470.7,235.7 471.6,237.2 472.4,237.4 473.3,237.9 474.1,239.2 475.0,238.6 475.9,237.2 476.7,238.3 477.5,239.6" fill="none" stroke="#ff0000" stroke-width="1.45" stroke-linejoin="round"/>
<polyline points="477.5,239.6 478.4,243.2" fill="none" stroke="#ff0000" stroke-width="1.45" stroke-dasharray="3.5,1.0,1.2,1.0" stroke-linejoin="round"/>
<polyline points="478.4,243.2 479.2,244.3 480.1,243.4" fill="none" stroke="#ff0000" stroke-width="1.45" stroke-linejoin="round"/>
<polyline points="480.1,243.4 480.9,240.7" fill="none" stroke="#ff0000" stroke-width="1.45" stroke-dasharray="3.5,1.0,1.2,1.0" stroke-linejoin="round"/>
<polyline points="480.9,240.7 481.8,240.0 482.6,239.6 483.5,239.7 484.3,237.9 485.2,238.1 486.0,237.0 486.9,237.0 487.8,237.7 488.6,236.2 490.0,236.9 490.7,237.7 491.4,238.0 492.2,239.3 492.9,240.8 493.6,239.8 494.4,239.7 495.1,239.8 495.8,240.3 496.6,241.8" fill="none" stroke="#ff0000" stroke-width="1.45" stroke-linejoin="round"/>
<polyline points="496.6,241.8 497.5,245.2" fill="none" stroke="#ff0000" stroke-width="1.45" stroke-dasharray="3.5,1.0,1.2,1.0" stroke-linejoin="round"/>
<polyline points="497.5,245.2 498.4,245.4" fill="none" stroke="#ff0000" stroke-width="1.45" stroke-linejoin="round"/>
<polyline points="498.4,245.4 499.2,248.1 502.7,237.4" fill="none" stroke="#ff0000" stroke-width="1.45" stroke-dasharray="3.5,1.0,1.2,1.0" stroke-linejoin="round"/>
<polyline points="502.7,237.4 503.4,237.6" fill="none" stroke="#ff0000" stroke-width="1.45" stroke-linejoin="round"/>
<polyline points="503.4,237.6 504.1,239.5" fill="none" stroke="#ff0000" stroke-width="1.45" stroke-dasharray="3.5,1.0,1.2,1.0" stroke-linejoin="round"/>
<polyline points="504.1,239.5 504.9,239.5 505.6,239.8" fill="none" stroke="#ff0000" stroke-width="1.45" stroke-linejoin="round"/>
<polyline points="505.6,239.8 506.4,242.6" fill="none" stroke="#ff0000" stroke-width="1.45" stroke-dasharray="3.5,1.0,1.2,1.0" stroke-linejoin="round"/>
<polyline points="506.4,242.6 507.2,243.5" fill="none" stroke="#ff0000" stroke-width="1.45" stroke-linejoin="round"/>
<polyline points="507.2,243.5 508.0,246.1 510.4,237.4" fill="none" stroke="#ff0000" stroke-width="1.45" stroke-dasharray="3.5,1.0,1.2,1.0" stroke-linejoin="round"/>
<polyline points="510.4,237.4 511.1,238.5 511.9,237.1 512.6,236.3 513.4,237.4 514.2,238.3" fill="none" stroke="#ff0000" stroke-width="1.45" stroke-linejoin="round"/>
<polyline points="514.2,238.3 515.0,240.4" fill="none" stroke="#ff0000" stroke-width="1.45" stroke-dasharray="3.5,1.0,1.2,1.0" stroke-linejoin="round"/>
<polyline points="515.0,240.4 515.8,240.8 516.5,241.8 517.2,241.5 518.0,240.1 518.7,240.8 519.5,241.2 520.3,240.2 521.1,239.8 522.1,238.8 523.1,240.1" fill="none" stroke="#ff0000" stroke-width="1.45" stroke-linejoin="round"/>
<polyline points="341.0,339.6 341.8,338.5 342.7,338.8 343.5,338.5 344.4,336.7 345.3,335.3 346.2,334.2 346.9,335.7 347.7,336.0 348.4,335.3 349.1,334.7" fill="none" stroke="#000000" stroke-width="1.3499999999999999" stroke-linejoin="round"/>
<polyline points="349.1,334.7 349.8,337.2" fill="none" stroke="#000000" stroke-width="1.3499999999999999" stroke-dasharray="3.5,1.0,1.2,1.0" stroke-linejoin="round"/>
<polyline points="349.8,337.2 350.5,336.4 351.2,336.2 351.9,336.4" fill="none" stroke="#000000" stroke-width="1.3499999999999999" stroke-linejoin="round"/>
<polyline points="351.9,336.4 352.6,334.2" fill="none" stroke="#000000" stroke-width="1.3499999999999999" stroke-dasharray="3.5,1.0,1.2,1.0" stroke-linejoin="round"/>
<polyline points="352.6,334.2 353.3,334.2 354.1,333.5 354.9,333.4 355.7,333.9 356.5,333.6 357.3,333.2 358.1,333.5 359.0,335.2 359.8,334.7 360.6,333.2 361.5,333.0 362.3,334.9 363.1,333.6 363.9,333.6 364.8,332.6 365.6,331.8 366.4,332.5 367.2,332.9" fill="none" stroke="#000000" stroke-width="1.3499999999999999" stroke-linejoin="round"/>
<polyline points="367.2,332.9 368.0,330.5" fill="none" stroke="#000000" stroke-width="1.3499999999999999" stroke-dasharray="3.5,1.0,1.2,1.0" stroke-linejoin="round"/>
<polyline points="368.0,330.5 368.8,331.7 369.6,330.9 370.4,330.9 371.2,332.0 372.1,331.1 372.9,332.5 373.7,332.2 374.5,333.8 375.4,333.2 376.2,334.7 377.1,334.0 378.0,333.3 378.9,333.6 379.8,334.6 380.7,335.0 381.6,335.8 382.3,337.1 383.1,337.5 383.8,336.9 384.7,336.7 385.6,335.3 386.5,333.1 387.2,333.9 387.9,334.7 388.6,335.2 389.3,335.3 390.2,335.4" fill="none" stroke="#000000" stroke-width="1.3499999999999999" stroke-linejoin="round"/>
<polyline points="390.2,335.4 391.1,337.7" fill="none" stroke="#000000" stroke-width="1.3499999999999999" stroke-dasharray="3.5,1.0,1.2,1.0" stroke-linejoin="round"/>
<polyline points="391.1,337.7 392.0,337.4 392.9,336.1" fill="none" stroke="#000000" stroke-width="1.3499999999999999" stroke-linejoin="round"/>
<polyline points="392.9,336.1 393.8,333.6" fill="none" stroke="#000000" stroke-width="1.3499999999999999" stroke-dasharray="3.5,1.0,1.2,1.0" stroke-linejoin="round"/>
<polyline points="393.8,333.6 394.7,333.1 395.6,333.3 396.5,331.8 397.4,331.8" fill="none" stroke="#000000" stroke-width="1.3499999999999999" stroke-linejoin="round"/>
<polyline points="397.4,331.8 398.3,334.1" fill="none" stroke="#000000" stroke-width="1.3499999999999999" stroke-dasharray="3.5,1.0,1.2,1.0" stroke-linejoin="round"/>
<polyline points="398.3,334.1 399.0,334.0 399.7,334.2 400.4,335.7 401.1,336.3 402.0,335.8 403.0,334.5 403.9,334.7 404.8,334.7 405.6,333.7 406.4,331.9 407.3,332.4 408.1,334.0 409.0,334.0 409.9,333.4 410.7,335.2 411.5,333.5 412.4,333.5 413.2,333.6 414.0,332.4 414.8,331.9 415.6,331.2 416.4,331.5 417.2,330.2 418.0,329.9" fill="none" stroke="#000000" stroke-width="1.3499999999999999" stroke-linejoin="round"/>
<polyline points="418.0,329.9 418.7,331.8" fill="none" stroke="#000000" stroke-width="1.3499999999999999" stroke-dasharray="3.5,1.0,1.2,1.0" stroke-linejoin="round"/>
<polyline points="418.7,331.8 419.5,332.6 420.2,333.5" fill="none" stroke="#000000" stroke-width="1.3499999999999999" stroke-linejoin="round"/>
<polyline points="420.2,333.5 420.9,335.5" fill="none" stroke="#000000" stroke-width="1.3499999999999999" stroke-dasharray="3.5,1.0,1.2,1.0" stroke-linejoin="round"/>
<polyline points="420.9,335.5 421.6,336.6 422.4,336.8 423.1,337.5 423.9,338.3 424.6,337.2 425.4,336.2 426.1,336.3 426.9,338.1 427.6,336.9 428.5,336.3 429.3,338.0 430.1,337.4 431.0,337.5 431.8,336.9 432.5,335.3 433.2,335.5" fill="none" stroke="#000000" stroke-width="1.3499999999999999" stroke-linejoin="round"/>
<polyline points="433.2,335.5 434.0,333.3" fill="none" stroke="#000000" stroke-width="1.3499999999999999" stroke-dasharray="3.5,1.0,1.2,1.0" stroke-linejoin="round"/>
<polyline points="434.0,333.3 434.8,334.1 435.5,332.4 436.3,333.9 437.1,333.9 438.0,333.1 438.8,334.7 439.6,334.7 440.5,333.1 441.4,332.7 442.2,332.2 442.9,333.7 443.6,333.7 444.3,334.7 445.0,335.2 445.7,334.9" fill="none" stroke="#000000" stroke-width="1.3499999999999999" stroke-linejoin="round"/>
<polyline points="445.7,334.9 446.4,332.9" fill="none" stroke="#000000" stroke-width="1.3499999999999999" stroke-dasharray="3.5,1.0,1.2,1.0" stroke-linejoin="round"/>
<polyline points="446.4,332.9 447.2,333.0 447.9,331.8 448.7,332.3 449.5,331.9 450.4,332.2 451.2,333.0 452.0,334.4 452.8,333.4 453.6,335.0 454.4,333.6 455.2,334.7 456.0,335.4 456.7,333.6 457.5,334.0 458.0,334.0" fill="none" stroke="#000000" stroke-width="1.3499999999999999" stroke-linejoin="round"/>
<polyline points="458.0,334.0 458.4,230.6 459.2,233.6" fill="none" stroke="#000000" stroke-width="1.3499999999999999" stroke-dasharray="3.5,1.0,1.2,1.0" stroke-linejoin="round"/>
<polyline points="459.2,233.6 460.0,233.0 460.9,231.5 461.6,230.7 462.4,229.4 463.1,227.7 463.9,227.4 464.8,228.9 465.6,229.4 466.5,230.9 467.3,230.5 468.2,232.3 469.0,231.5 469.9,229.5" fill="none" stroke="#000000" stroke-width="1.3499999999999999" stroke-linejoin="round"/>
<polyline points="469.9,229.5 470.7,227.2" fill="none" stroke="#000000" stroke-width="1.3499999999999999" stroke-dasharray="3.5,1.0,1.2,1.0" stroke-linejoin="round"/>
<polyline points="470.7,227.2 471.6,228.4 472.4,228.3 473.3,228.5 474.1,229.7 475.0,229.0 475.8,228.5 476.7,229.3 477.5,229.2 478.4,230.6 479.2,229.6 480.1,229.7 480.9,228.5 481.8,227.8 482.6,227.1 483.5,226.0 484.3,224.9 485.2,225.4 486.0,224.3 486.9,224.3 487.7,225.4 488.6,224.3 490.0,225.7 490.7,226.5 491.4,226.8 492.2,228.1 492.9,229.6 493.6,228.6 494.4,228.5 495.1,228.6 495.8,229.1 496.6,229.9" fill="none" stroke="#000000" stroke-width="1.3499999999999999" stroke-linejoin="round"/>
<polyline points="496.6,229.9 497.5,232.6" fill="none" stroke="#000000" stroke-width="1.3499999999999999" stroke-dasharray="3.5,1.0,1.2,1.0" stroke-linejoin="round"/>
<polyline points="497.5,232.6 498.4,232.0 499.2,234.0 499.9,233.1 500.6,232.3" fill="none" stroke="#000000" stroke-width="1.3499999999999999" stroke-linejoin="round"/>
<polyline points="500.6,232.3 501.3,230.4 502.0,227.9" fill="none" stroke="#000000" stroke-width="1.3499999999999999" stroke-dasharray="3.5,1.0,1.2,1.0" stroke-linejoin="round"/>
<polyline points="502.0,227.9 502.7,227.2 503.4,227.2 504.1,229.0 504.9,229.0 505.6,229.1 506.4,230.6 507.2,230.2 508.0,231.5" fill="none" stroke="#000000" stroke-width="1.3499999999999999" stroke-linejoin="round"/>
<polyline points="508.0,231.5 508.8,228.6" fill="none" stroke="#000000" stroke-width="1.3499999999999999" stroke-dasharray="3.5,1.0,1.2,1.0" stroke-linejoin="round"/>
<polyline points="508.8,228.6 509.6,227.3 510.4,225.7 511.1,226.5 511.9,224.9 512.6,223.8 513.4,224.7 514.2,226.1" fill="none" stroke="#000000" stroke-width="1.3499999999999999" stroke-linejoin="round"/>
<polyline points="514.2,226.1 515.0,228.7" fill="none" stroke="#000000" stroke-width="1.3499999999999999" stroke-dasharray="3.5,1.0,1.2,1.0" stroke-linejoin="round"/>
<polyline points="515.0,228.7 515.8,229.6 516.5,230.9 517.2,230.8 518.0,229.6 518.7,230.6 519.5,231.2 520.3,230.3 521.1,230.1" fill="none" stroke="#000000" stroke-width="1.3499999999999999" stroke-linejoin="round"/>
<polyline points="521.1,230.1 522.1,227.5" fill="none" stroke="#000000" stroke-width="1.3499999999999999" stroke-dasharray="3.5,1.0,1.2,1.0" stroke-linejoin="round"/>
<polyline points="522.1,227.5 523.1,227.2" fill="none" stroke="#000000" stroke-width="1.3499999999999999" stroke-linejoin="round"/>
<line x1="456.3" y1="364.5" x2="456.3" y2="215.5" stroke="#33ee44" stroke-width="1.3" stroke-dasharray="4.8,2.7"/>
</g>
<line x1="338.5" y1="364.5" x2="338.5" y2="362.5" stroke="#999999" stroke-width="1"/>
<line x1="338.5" y1="215.5" x2="338.5" y2="217.5" stroke="#999999" stroke-width="1"/>
<text x="338.5" y="378.1" text-anchor="middle" class="tk">0</text>
<line x1="404.5" y1="364.5" x2="404.5" y2="362.5" stroke="#999999" stroke-width="1"/>
<line x1="404.5" y1="215.5" x2="404.5" y2="217.5" stroke="#999999" stroke-width="1"/>
<text x="404.5" y="378.1" text-anchor="middle" class="tk">500</text>
<line x1="470.5" y1="364.5" x2="470.5" y2="362.5" stroke="#999999" stroke-width="1"/>
<line x1="470.5" y1="215.5" x2="470.5" y2="217.5" stroke="#999999" stroke-width="1"/>
<text x="470.5" y="378.1" text-anchor="middle" class="tk">1000</text>
<line x1="536.5" y1="364.5" x2="536.5" y2="362.5" stroke="#999999" stroke-width="1"/>
<line x1="536.5" y1="215.5" x2="536.5" y2="217.5" stroke="#999999" stroke-width="1"/>
<text x="536.5" y="378.1" text-anchor="middle" class="tk">1500</text>
<line x1="338.5" y1="364.5" x2="340.5" y2="364.5" stroke="#999999" stroke-width="1"/>
<line x1="536.5" y1="364.5" x2="534.5" y2="364.5" stroke="#999999" stroke-width="1"/>
<text x="334.6" y="368.2" text-anchor="end" class="tk">180</text>
<line x1="338.5" y1="339.7" x2="340.5" y2="339.7" stroke="#999999" stroke-width="1"/>
<line x1="536.5" y1="339.7" x2="534.5" y2="339.7" stroke="#999999" stroke-width="1"/>
<text x="334.6" y="343.4" text-anchor="end" class="tk">190</text>
<line x1="338.5" y1="314.8" x2="340.5" y2="314.8" stroke="#999999" stroke-width="1"/>
<line x1="536.5" y1="314.8" x2="534.5" y2="314.8" stroke="#999999" stroke-width="1"/>
<text x="334.6" y="318.5" text-anchor="end" class="tk">200</text>
<line x1="338.5" y1="290.0" x2="340.5" y2="290.0" stroke="#999999" stroke-width="1"/>
<line x1="536.5" y1="290.0" x2="534.5" y2="290.0" stroke="#999999" stroke-width="1"/>
<text x="334.6" y="293.7" text-anchor="end" class="tk">210</text>
<line x1="338.5" y1="265.2" x2="340.5" y2="265.2" stroke="#999999" stroke-width="1"/>
<line x1="536.5" y1="265.2" x2="534.5" y2="265.2" stroke="#999999" stroke-width="1"/>
<text x="334.6" y="268.9" text-anchor="end" class="tk">220</text>
<line x1="338.5" y1="240.3" x2="340.5" y2="240.3" stroke="#999999" stroke-width="1"/>
<line x1="536.5" y1="240.3" x2="534.5" y2="240.3" stroke="#999999" stroke-width="1"/>
<text x="334.6" y="244.0" text-anchor="end" class="tk">230</text>
<line x1="338.5" y1="215.5" x2="340.5" y2="215.5" stroke="#999999" stroke-width="1"/>
<line x1="536.5" y1="215.5" x2="534.5" y2="215.5" stroke="#999999" stroke-width="1"/>
<text x="334.6" y="219.2" text-anchor="end" class="tk">240</text>
<rect x="338.4" y="215.4" width="198.0" height="149.0" fill="none" stroke="#999999" stroke-width="1.3"/>
<text x="437.5" y="391.7" text-anchor="middle" class="al">Event number</text>
<text transform="translate(313.3,290.0) rotate(-90)" text-anchor="middle" class="al">Energy</text>
<text x="180.0" y="67.8" class="an" text-anchor="start">Event 1094</text>
<line x1="195.0" y1="59.0" x2="184.3" y2="39.9" stroke="#262626" stroke-width="0.9"/>
<path d="M181.9,35.5L187.1,39.5L184.0,39.3L182.6,42.0Z" fill="#262626"/>
<text x="103.2" y="98.0" class="an" text-anchor="middle">Actual scour</text>
<text x="103.2" y="109.4" class="an" text-anchor="middle">at event 893</text>
<line x1="124.0" y1="85.9" x2="145.5" y2="78.1" stroke="#262626" stroke-width="0.9"/>
<path d="M150.2,76.4L145.4,80.9L146.1,77.9L143.7,76.0Z" fill="#262626"/>
<text x="175.8" y="109.8" class="an" text-anchor="start">(946, 191.7)</text>
<line x1="190.0" y1="110.3" x2="169.1" y2="119.8" stroke="#262626" stroke-width="0.9"/>
<path d="M164.5,121.9L168.9,117.0L168.5,120.1L171.0,121.8Z" fill="#262626"/>
<text x="472.6" y="106.9" class="an b" text-anchor="start">(917,190.9)</text>
<line x1="474.5" y1="112.7" x2="467.7" y2="121.1" stroke="#262626" stroke-width="0.9"/>
<path d="M464.5,125.0L466.3,118.7L467.3,121.6L470.3,122.0Z" fill="#262626"/>
<text x="168.4" y="314.4" class="an c" text-anchor="start">(905,190.7)</text>
<line x1="170.5" y1="320.4" x2="159.8" y2="331.3" stroke="#262626" stroke-width="0.9"/>
<path d="M156.3,334.9L158.6,328.8L159.4,331.8L162.4,332.4Z" fill="#262626"/>
<text x="364.0" y="305.3" class="an b" text-anchor="start">(57,189.5)</text>
<line x1="362.7" y1="308.7" x2="351.4" y2="330.7" stroke="#262626" stroke-width="0.9"/>
<path d="M349.1,335.1L349.5,328.6L351.1,331.2L354.2,331.0Z" fill="#262626"/>
<text x="128.5" y="197.8" class="cap" text-anchor="middle">(a)</text>
<text x="432.0" y="197.8" class="cap" text-anchor="middle">(b)</text>
<text x="128.5" y="406.8" class="cap" text-anchor="middle">(c)</text>
<text x="432.0" y="406.8" class="cap" text-anchor="middle">(d)</text>
<rect x="39.5" y="7.5" width="93.5" height="72" fill="#fff" stroke="#999999" stroke-width="1.2"/>
<line x1="41" y1="14.5" x2="59.2" y2="14.5" stroke="#0000ff" stroke-width="1.25"/>
<line x1="41" y1="26.0" x2="59.2" y2="26.0" stroke="#ff0000" stroke-width="1.3" stroke-dasharray="3.5,1.0,1.2,1.0"/>
<line x1="41" y1="37.5" x2="59.2" y2="37.5" stroke="#000000" stroke-width="1.2" stroke-dasharray="3.5,1.0,1.2,1.0"/>
<line x1="41" y1="49.4" x2="59.2" y2="49.4" stroke="#ff00ff" stroke-width="1" stroke-dasharray="1.2,0.9"/>
<line x1="41" y1="61.1" x2="59.2" y2="61.1" stroke="#33ee44" stroke-width="1.1" stroke-dasharray="4.8,2.7"/>
<path d="M45.80,72.90L54.60,72.90M47.09,69.79L53.31,76.01M50.20,68.50L50.20,77.30M53.31,69.79L47.09,76.01" stroke="#2f86d0" stroke-width="0.95" fill="none"/>
<text x="60.6" y="17.9" class="lg"><tspan class="gr">&#956;</tspan></text>
<text x="60.6" y="29.4" class="lg"><tspan class="gr">&#956;</tspan>-<tspan class="gr">&#963;</tspan>/2</text>
<text x="60.6" y="40.9" class="lg"><tspan class="gr">&#956;</tspan>+<tspan class="gr">&#963;</tspan>/2</text>
<text x="60.6" y="52.8" class="lg">minmum of <tspan class="gr">&#956;</tspan>+<tspan class="gr">&#963;</tspan>/2</text>
<text x="60.6" y="64.5" class="lg">scour occurs</text>
<text x="60.6" y="76.30000000000001" class="lg">scour detected</text>
</svg></body></html>
